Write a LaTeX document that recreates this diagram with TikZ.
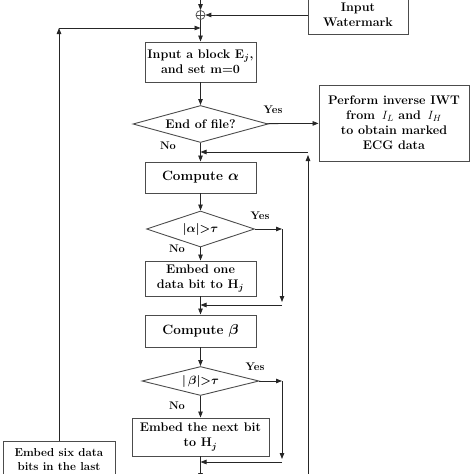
\documentclass[tikz,border=0pt]{standalone}
\usepackage{amsmath,bm}
\usepackage{tikz}
\usetikzlibrary{shapes.geometric}
\usetikzlibrary{arrows.meta}

\tikzset{
	stepbox/.style={draw=black!70, line width=0.9pt, align=center, inner sep=1pt, font=\bfseries\fontsize{12.5}{15}\selectfont},
	decision/.style={diamond, draw=black!70, line width=0.9pt, inner sep=0pt, font=\bfseries\boldmath\fontsize{12.5}{15}\selectfont},
	flow/.style={draw=black!85, line width=0.8pt},
	tip/.style={-{Triangle[length=6pt,width=4.5pt]}},
	answer/.style={inner sep=0pt, font=\bfseries\fontsize{11}{13}\selectfont},
}

\begin{document}
\begin{tikzpicture}[x=1pt,y=-1pt]
		\pgfmathsetmacro{\mainX}{200.5}
		\pgfmathsetmacro{\loopX}{282}
		\useasboundingbox (0,0) rectangle (474,474);
		\clip (0,0) rectangle (474,474);
		
		% boxes and tests
		\node[stepbox, minimum width=100pt, minimum height=38pt] (watermark) at (358,15) {Input\\Watermark};
		\node[circle, draw=black!70, line width=0.7pt, minimum size=9pt, inner sep=0pt] (sum) at (\mainX,15) {};
		\draw[line width=0.6pt, black!70] (sum.north) -- (sum.south) (sum.west) -- (sum.east);
		\node[stepbox, minimum width=111pt, minimum height=40pt] (block) at (\mainX,62) {Input a block E$_{\bm j}$,\\and set m=0};
		\node[decision, aspect=3.6, minimum width=135pt, minimum height=37pt] (eof) at (\mainX,124) {End of file?};
		\node[stepbox, minimum width=150pt, minimum height=76pt] (perform) at (394,123) {Perform inverse IWT\\from \,$I_L$ and \,$I_H$\\to obtain marked\\ECG data};
		\node[stepbox, minimum width=111pt, minimum height=31pt, font=\bfseries\boldmath\fontsize{13.5}{16}\selectfont] (alphabox) at (\mainX,177.5) {Compute $\alpha$};
		\node[decision, aspect=3, minimum width=108pt, minimum height=36pt] (alphatest) at (\mainX,229) {$|\alpha|{>}\tau$};
		\node[stepbox, minimum width=111pt, minimum height=35pt] (embedone) at (\mainX,278.5) {Embed one\\data bit to H$_{\bm j}$};
		\node[stepbox, minimum width=111pt, minimum height=32pt, font=\bfseries\boldmath\fontsize{13.5}{16}\selectfont] (betabox) at (\mainX,331) {Compute $\beta$};
		\node[decision, aspect=4, minimum width=117pt, minimum height=29pt] (betatest) at (\mainX,381) {$|\,\beta|{>}\tau$};
		\node[stepbox, minimum width=137pt, minimum height=38pt] (embednext) at (\mainX,437) {Embed the next bit\\to H$_{\bm j}$};
		\node[stepbox, minimum width=112pt, minimum height=38pt, font=\bfseries\fontsize{11.5}{14}\selectfont] (lastbits) at (59,460) {Embed six data\\bits in the last};
		
		% yes / no
		\node[answer] (eofyes) at (273,110) {Yes};
		\node[answer] (eofno) at (168,146) {No};
		\node[answer] (alphayes) at (260,216) {Yes};
		\node[answer] (alphano) at (177,249) {No};
		\node[answer] (betayes) at (255,367) {Yes};
		\node[answer] (betano) at (177,406) {No};
		
		% main line
		\coordinate (top) at (\mainX,-5);
		\coordinate (merge) at (\mainX,28);
		\coordinate (exit) at (\mainX,479);
		\draw[flow,tip] (top) -- (sum);
		\draw[flow,tip] (watermark) -- (sum);
		\draw[flow,tip] (sum) -- (block);
		\draw[flow,tip] (block) -- (eof);
		\draw[flow,tip] (eof) -- (perform);
		\draw[flow,tip] (eof) -- (alphabox);
		\draw[flow,tip] (alphabox) -- (alphatest);
		\draw[flow,tip] (alphatest) -- (embedone);
		\draw[flow,tip] (embedone) -- (betabox);
		\draw[flow,tip] (betabox) -- (betatest);
		\draw[flow,tip] (betatest) -- (embednext);
		\draw[flow,tip] (embednext) -- (exit);
		
		% back to the next block
		\coordinate (corner) at (59,28);
		\draw[flow,tip] (lastbits) -- (corner);
		\draw[flow,tip] (corner) -- (merge);
		
		% back to compute alpha
		\coordinate (backbot) at (308,480);
		\coordinate (backtip) at (308,155);
		\coordinate (backin) at (308,152);
		\coordinate (backjoin) at (\mainX,152);
		\draw[flow,tip] (backbot) -- (backtip);
		\draw[flow,tip] (backin) -- (backjoin);
		
		% skip the embedding
		\foreach \test/\testY/\joinY in {alphatest/229/305, betatest/381/462} {
			\coordinate (\test-r) at (\loopX,\testY);
			\coordinate (\test-d) at (\loopX,\joinY-3);
			\coordinate (\test-j) at (\loopX,\joinY);
			\coordinate (\test-m) at (\mainX,\joinY);
			\draw[flow,tip] (\test.east) -- (\test-r);
			\draw[flow,tip] (\test-r) -- (\test-d);
			\draw[flow,tip] (\test-j) -- (\test-m);
		}
	\end{tikzpicture}
\end{document}
